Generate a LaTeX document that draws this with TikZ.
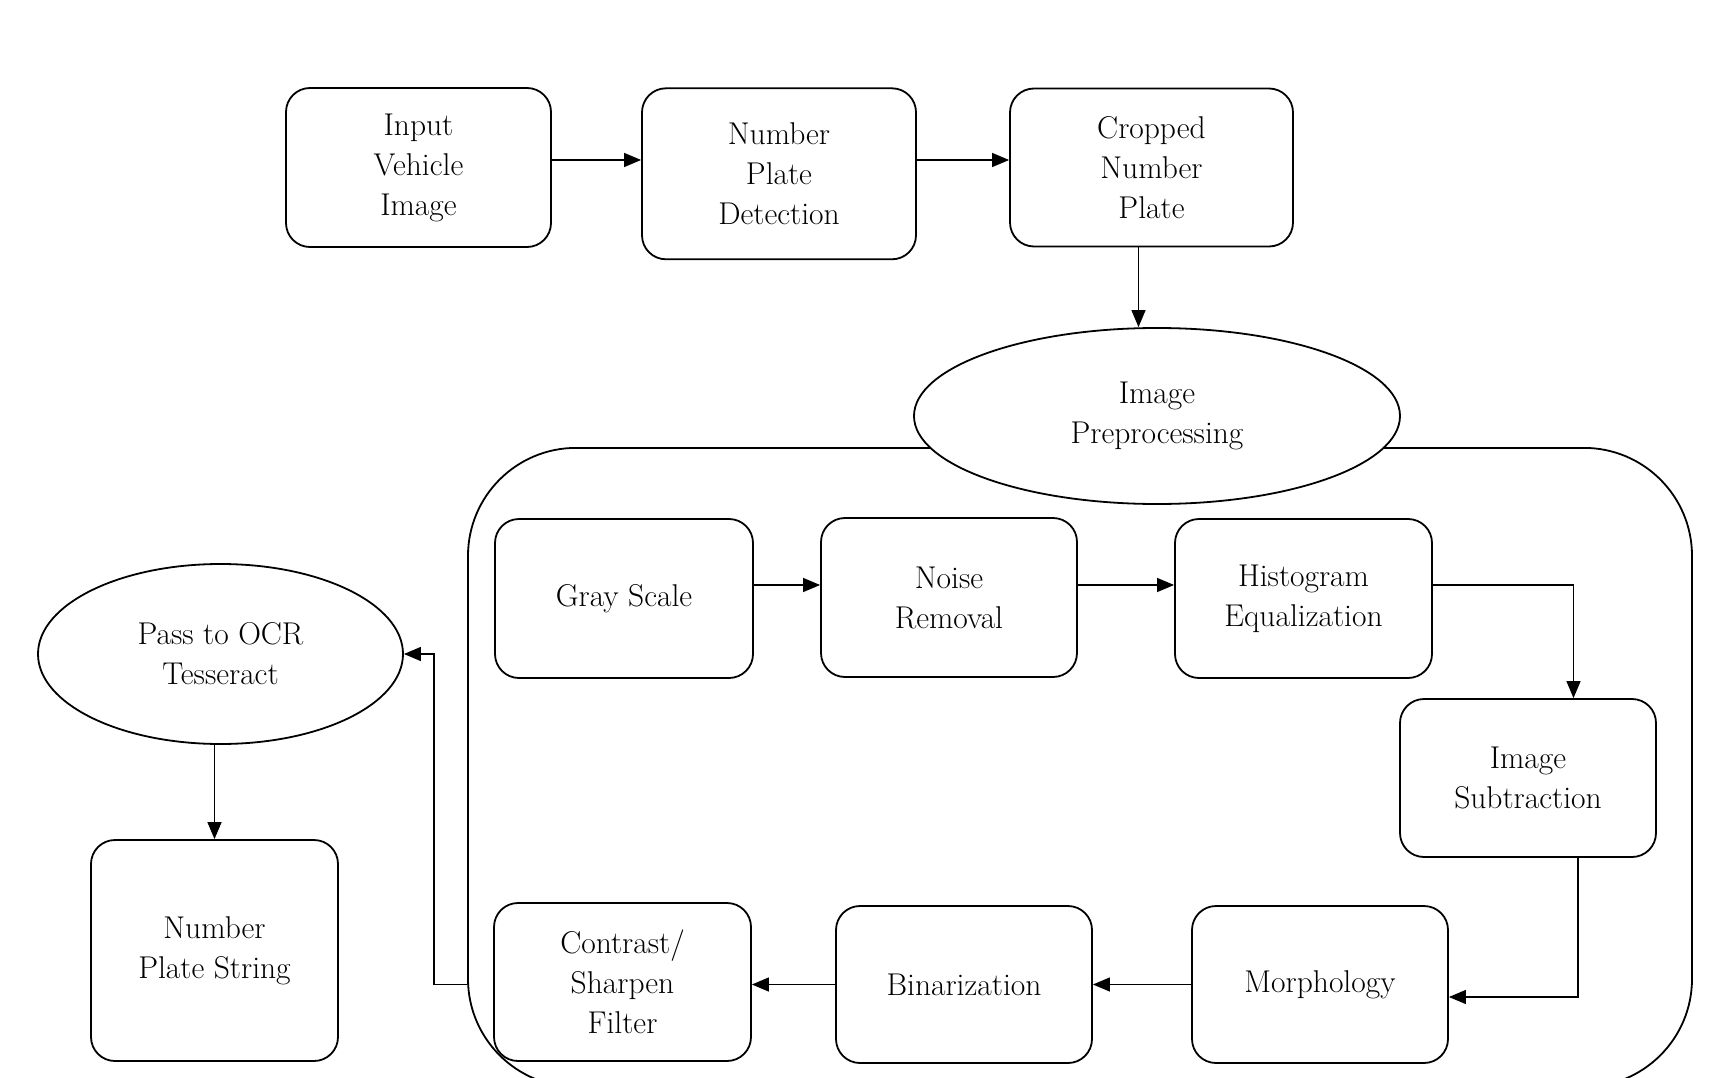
\documentclass[tikz,border=0pt]{standalone}
\usetikzlibrary{shapes.geometric,arrows.meta,calc}
\newcommand\fs{\fontsize{31.5}{40}\selectfont}
\begin{document}
\begin{tikzpicture}[x=1pt,y=-1pt,
 box/.style={draw, line width=1.8pt, rounded corners=24pt, align=center, inner sep=0pt, font=\fs},
 oval/.style={draw, ellipse, line width=1.8pt, fill=white, align=center, inner sep=0pt, font=\fs},
 arr/.style={line width=1.3pt, -{Triangle[length=17pt,width=14pt]}}]
\useasboundingbox (0,0) rectangle (1711,1078);
\clip (0,0) rectangle (1711,1078);
\fill[white] (0,0) rectangle (1711,1078);

% container
\node[draw, line width=1.8pt, rounded corners=108pt, minimum width=1224pt, minimum height=639pt, inner sep=0pt] (cont) at (1080,767.4) {};

% top row
\node[box, minimum width=265pt, minimum height=159pt] (in) at (418.5,167.5) {Input\\Vehicle\\Image};
\node[box, minimum width=274pt, minimum height=171pt] (npd) at (779,173.8) {Number\\Plate\\Detection};
\node[box, minimum width=283pt, minimum height=158pt] (crop) at (1151.5,167.5) {Cropped\\Number\\Plate};

\node[oval, minimum width=486pt, minimum height=176pt] (ip) at (1157,416) {Image\\Preprocessing};

% middle row
\node[box, minimum width=258pt, minimum height=159pt] (gray) at (624,598.5) {Gray Scale};
\node[box, minimum width=256pt, minimum height=159pt] (noise) at (949,597.5) {Noise\\Removal};
\node[box, minimum width=257pt, minimum height=159pt] (hist) at (1303.5,598.5) {Histogram\\Equalization};
\node[box, minimum width=256pt, minimum height=158pt] (ims) at (1528,778) {Image\\Subtraction};

% bottom row
\node[box, minimum width=256pt, minimum height=157pt] (morph) at (1320,984.5) {Morphology};
\node[box, minimum width=256pt, minimum height=157pt] (bin) at (964,984.5) {Binarization};
\node[box, minimum width=257pt, minimum height=158pt] (con) at (622.5,982) {Contrast/\\Sharpen\\Filter};

% left
\node[oval, minimum width=365pt, minimum height=180pt] (ocr) at (220.5,654) {Pass to OCR\\Tesseract};
\node[box, minimum width=247pt, minimum height=221pt] (nps) at (214.5,950.5) {Number\\Plate String};

% connectors
\coordinate (r1) at (0,160);
\coordinate (c1) at (1138.5,0);
\coordinate (r2) at (0,585);
\coordinate (c2) at (1573.5,0);
\coordinate (c3) at (1578,997);

\draw[arr] (in.east |- r1) -- (npd.west |- r1);
\draw[arr] (npd.east |- r1) -- (crop.west |- r1);
\draw[arr] (crop.south -| c1) -- (ip.north -| c1);
\draw[arr] (gray.east |- r2) -- (noise.west |- r2);
\draw[arr] (noise.east |- r2) -- (hist.west |- r2);
\draw[arr] (hist.east |- r2) -| (ims.north -| c2);
\draw[arr] (ims.south -| c3) |- (morph.east |- c3);
\draw[arr] (morph.west) -- (bin.east);
\draw[arr] (bin.west) -- (con.east |- bin.west);
\draw[arr] (cont.west |- bin.west) -- ++(-33,0) |- (ocr.east);
\draw[arr] (nps.north |- ocr.south) -- (nps.north);
\end{tikzpicture}
\end{document}
